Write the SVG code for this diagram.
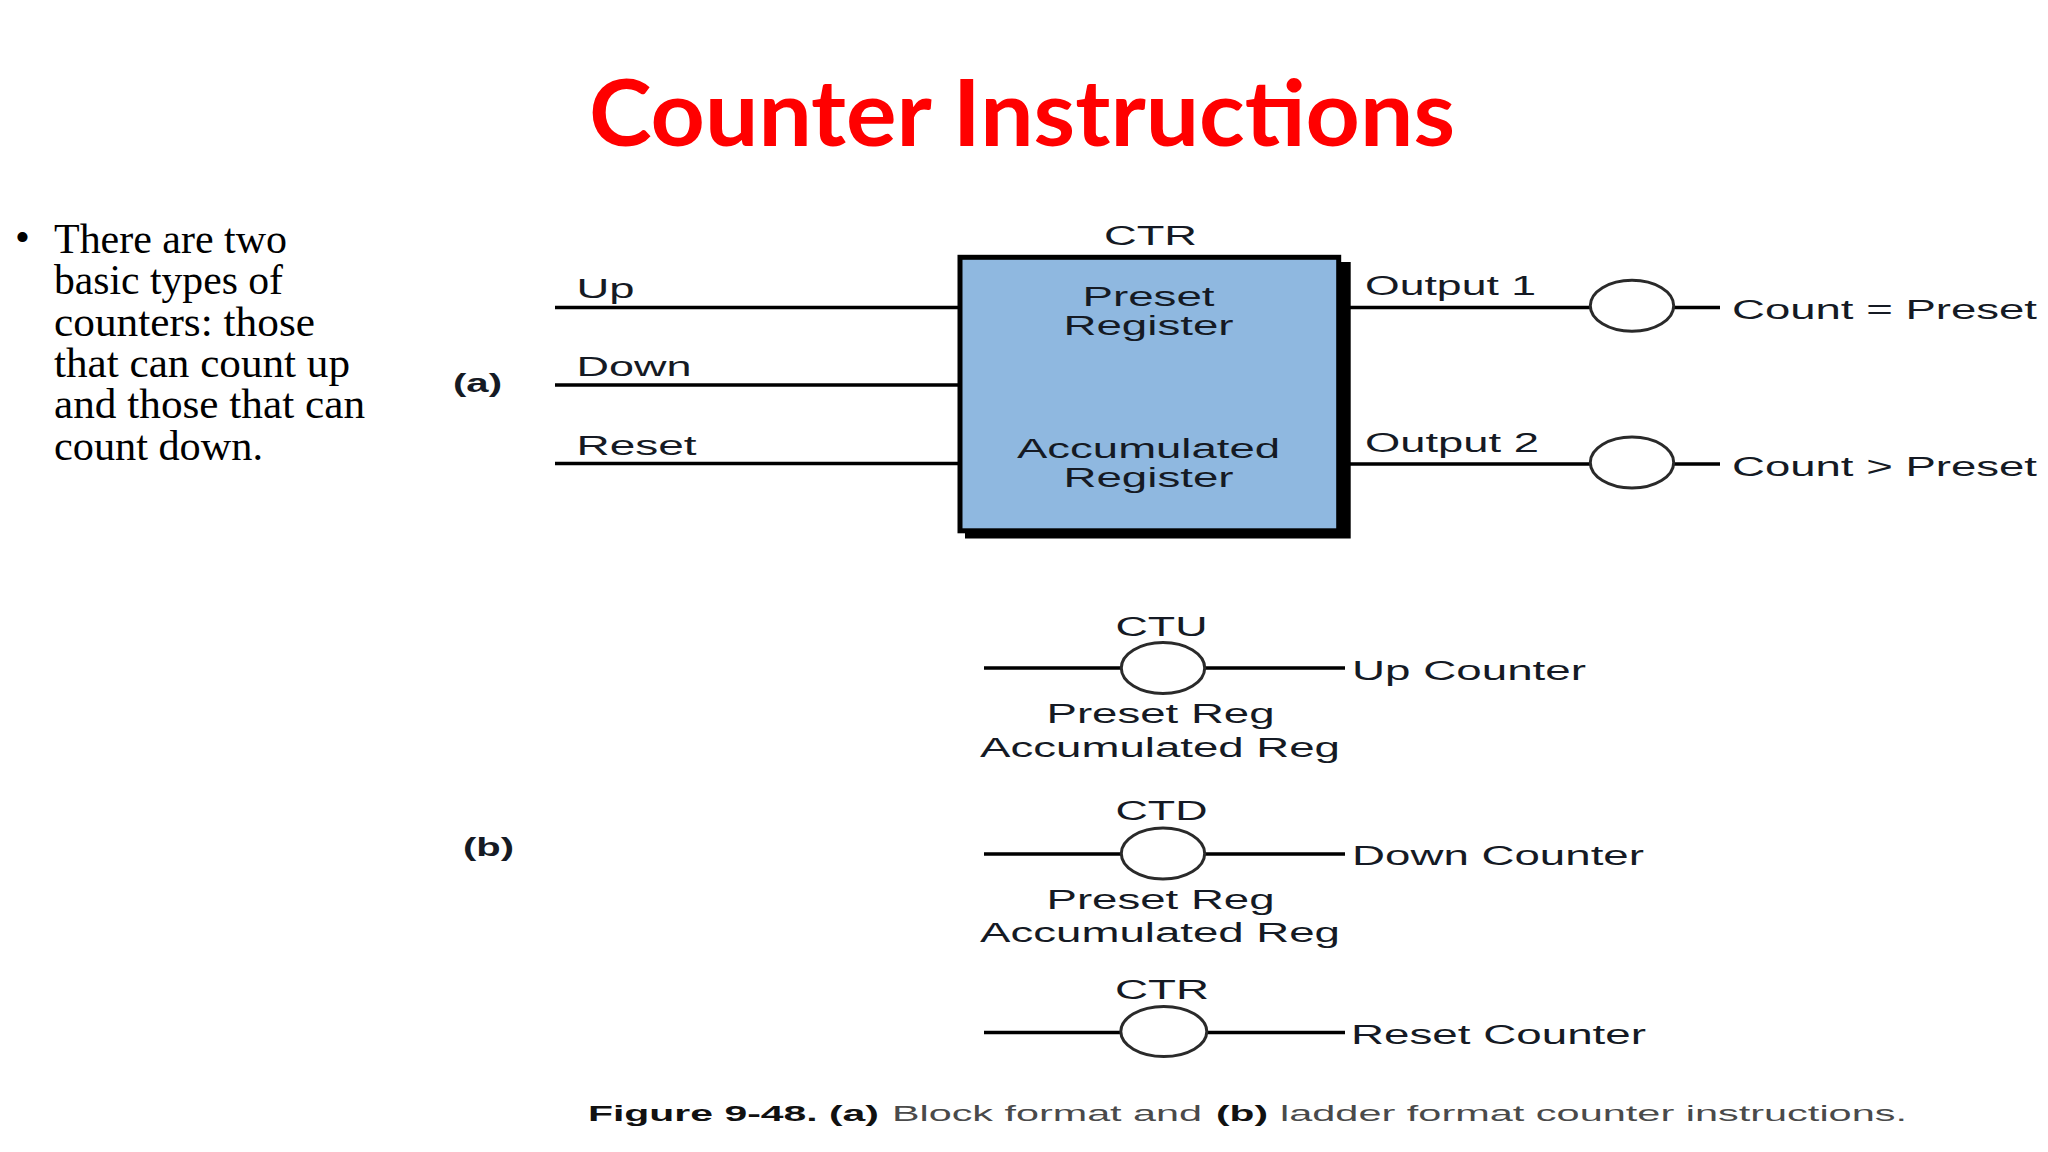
<svg xmlns="http://www.w3.org/2000/svg" width="2048" height="1152" viewBox="0 0 2048 1152">
<style>
text{font-family:"Liberation Sans",Arial,sans-serif;font-size:27px;fill:#151a24}
.b{font-weight:bold}
.lab{font-size:25px;font-weight:bold}
.cap{font-size:22px;fill:#111}
.capg{font-size:22px;fill:#4a4a4a}
.body{font-family:"Liberation Serif","Times New Roman",serif;font-size:42.5px;fill:#000}
.title{font-family:Lato,"Liberation Sans",sans-serif;font-weight:bold;font-size:92px;fill:#ff0000}
.wire{stroke:#000;stroke-width:3.6;fill:none}
.coil{stroke:#2a2a2a;stroke-width:3;fill:#fff}
</style>
<rect width="2048" height="1152" fill="#fff"/>
<g id="title"><text class="title" x="589" y="146" textLength="866" lengthAdjust="spacingAndGlyphs">Counter Instructions</text></g>
<g id="bullet-text">
<text class="body" x="15" y="251">•</text>
<text class="body" x="54" y="253" textLength="233" lengthAdjust="spacingAndGlyphs">There are two</text>
<text class="body" x="54" y="294" textLength="229" lengthAdjust="spacingAndGlyphs">basic types of</text>
<text class="body" x="54" y="336" textLength="261" lengthAdjust="spacingAndGlyphs">counters: those</text>
<text class="body" x="54" y="377" textLength="296" lengthAdjust="spacingAndGlyphs">that can count up</text>
<text class="body" x="54" y="418" textLength="311" lengthAdjust="spacingAndGlyphs">and those that can</text>
<text class="body" x="54" y="460" textLength="209" lengthAdjust="spacingAndGlyphs">count down.</text>
</g>
<g id="connectors">
<path class="wire" d="M555 307.5H958M555 385H958M555 463.5H958"/>
<path class="wire" d="M1350 307.5H1590M1674 307.5H1720M1350 464H1590M1674 464H1720"/>
<path class="wire" d="M984 668H1121M1205 668H1345M984 854H1121M1205 854H1345M984 1032.5H1121M1207 1032.5H1345"/>
</g>
<g id="block-ctr">
<rect x="965" y="262" width="385.700" height="276.500" fill="#000"/>
<rect x="960" y="257.300" width="378.700" height="273.500" fill="#8fb8e0" stroke="#000" stroke-width="5"/>
<text x="1104" y="245" textLength="93" lengthAdjust="spacingAndGlyphs">CTR</text>
<text x="1082.500" y="306" textLength="132" lengthAdjust="spacingAndGlyphs">Preset</text>
<text x="1063.500" y="335" textLength="170" lengthAdjust="spacingAndGlyphs">Register</text>
<text x="1017" y="458" textLength="263" lengthAdjust="spacingAndGlyphs">Accumulated</text>
<text x="1063.500" y="487" textLength="170" lengthAdjust="spacingAndGlyphs">Register</text>
</g>
<g id="inputs">
<text x="576.500" y="298" textLength="58" lengthAdjust="spacingAndGlyphs">Up</text>
<text x="576.500" y="376" textLength="115" lengthAdjust="spacingAndGlyphs">Down</text>
<text x="576.500" y="455" textLength="120" lengthAdjust="spacingAndGlyphs">Reset</text>
</g>
<g id="label-a"><text class="lab" x="453" y="392" textLength="49" lengthAdjust="spacingAndGlyphs">(a)</text></g>
<g id="output-1">
<text x="1365" y="295" textLength="171" lengthAdjust="spacingAndGlyphs">Output 1</text>
<ellipse class="coil" cx="1632" cy="305.700" rx="41.700" ry="25.500"/>
<text x="1732" y="319" textLength="305" lengthAdjust="spacingAndGlyphs">Count = Preset</text>
</g>
<g id="output-2">
<text x="1365" y="452" textLength="174" lengthAdjust="spacingAndGlyphs">Output 2</text>
<ellipse class="coil" cx="1632" cy="462.500" rx="41.700" ry="25.500"/>
<text x="1732" y="476" textLength="305" lengthAdjust="spacingAndGlyphs">Count &gt; Preset</text>
</g>
<g id="ctu">
<text x="1115.500" y="636" textLength="92" lengthAdjust="spacingAndGlyphs">CTU</text>
<ellipse class="coil" cx="1163" cy="668" rx="41.700" ry="25.500"/>
<text x="1352" y="680" textLength="234" lengthAdjust="spacingAndGlyphs">Up Counter</text>
<text x="1046.500" y="723" textLength="228" lengthAdjust="spacingAndGlyphs">Preset Reg</text>
<text x="980" y="757" textLength="360" lengthAdjust="spacingAndGlyphs">Accumulated Reg</text>
</g>
<g id="ctd">
<text x="1115.500" y="820" textLength="92" lengthAdjust="spacingAndGlyphs">CTD</text>
<ellipse class="coil" cx="1163" cy="853.500" rx="41.700" ry="25.500"/>
<text x="1352" y="865" textLength="292" lengthAdjust="spacingAndGlyphs">Down Counter</text>
<text x="1046.500" y="909" textLength="228" lengthAdjust="spacingAndGlyphs">Preset Reg</text>
<text x="980" y="942" textLength="360" lengthAdjust="spacingAndGlyphs">Accumulated Reg</text>
</g>
<g id="ctr">
<text x="1115" y="998.500" textLength="94" lengthAdjust="spacingAndGlyphs">CTR</text>
<ellipse class="coil" cx="1163.800" cy="1031.500" rx="43" ry="25"/>
<text x="1351" y="1043.500" textLength="295" lengthAdjust="spacingAndGlyphs">Reset Counter</text>
</g>
<g id="label-b"><text class="lab" x="463" y="856" textLength="51" lengthAdjust="spacingAndGlyphs">(b)</text></g>
<g id="caption">
<text class="cap b" x="588" y="1120.500" textLength="291" lengthAdjust="spacingAndGlyphs">Figure 9-48. (a)</text>
<text class="capg" x="892" y="1120.500" textLength="310" lengthAdjust="spacingAndGlyphs">Block format and</text>
<text class="cap b" x="1216" y="1120.500" textLength="52" lengthAdjust="spacingAndGlyphs">(b)</text>
<text class="capg" x="1280" y="1120.500" textLength="627" lengthAdjust="spacingAndGlyphs">ladder format counter instructions.</text>
</g>
</svg>
